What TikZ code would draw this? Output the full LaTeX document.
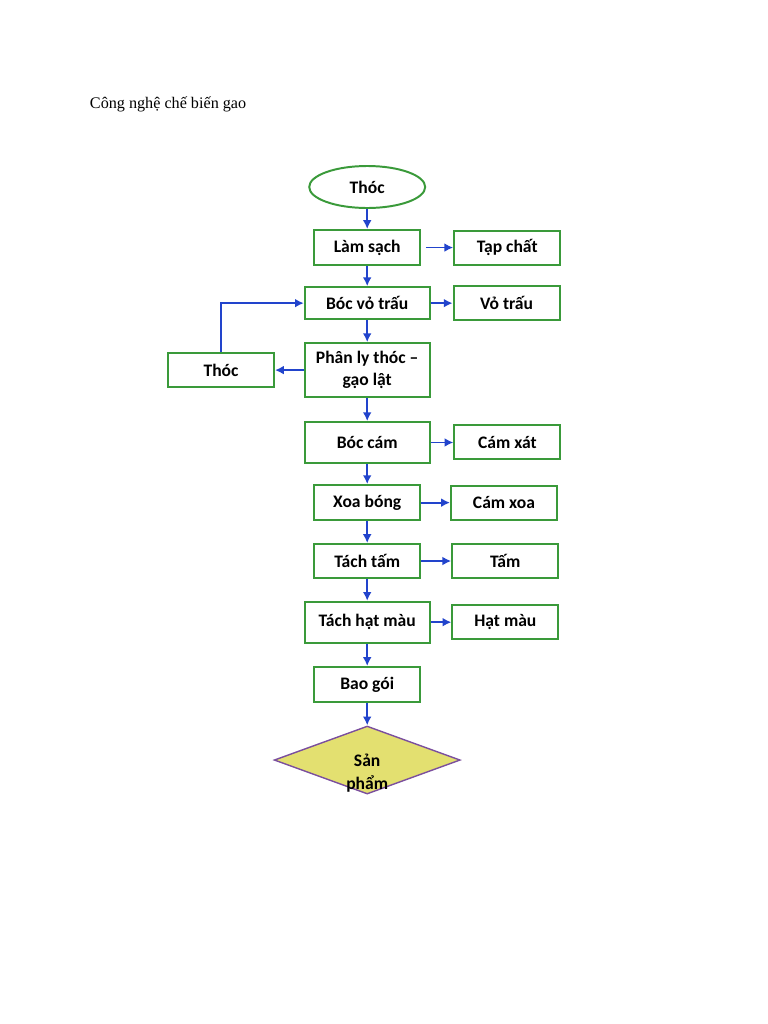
\documentclass[tikz,border=0pt]{standalone}
\usepackage{fontspec}
\setmainfont{Liberation Serif}
\setsansfont{Carlito}
\usepackage{xcolor}
\usepackage{tikz}
\usetikzlibrary{arrows.meta, positioning, shapes.geometric}

\definecolor{boxgreen}{HTML}{3A9A3A}
\definecolor{flowblue}{HTML}{2244CC}
\definecolor{goldfill}{HTML}{E3E070}
\definecolor{violetline}{HTML}{7B4F9E}

\begin{document}
\begin{tikzpicture}[
        start/.style={draw=boxgreen, line width=1.4pt, ellipse, minimum width=2.9cm, minimum height=1.05cm, inner sep=0pt, font=\sffamily\bfseries\fontsize{12.5}{15.5}\selectfont},
        process/.style={draw=boxgreen, line width=1.4pt, rectangle, minimum width=2.65cm, minimum height=0.88cm, align=center, font=\sffamily\bfseries\fontsize{12.5}{15.5}\selectfont},
        wideprocess/.style={process, minimum width=3.12cm},
        waste/.style={process, minimum width=2.65cm, minimum height=0.85cm},
        finish/.style={draw=violetline, line width=1pt, fill=goldfill, diamond, minimum width=4.65cm, minimum height=1.7cm, inner sep=0pt},
        arrow/.style={-{Latex[length=2.2mm, width=2.2mm]}, draw=flowblue, line width=1.3pt}
    ]
        \fill[white] (0,0) rectangle (19.2,-25.6);
        \useasboundingbox (0,0) rectangle (19.2,-25.6);

        \node[anchor=base west, font=\fontsize{11.5}{14}\selectfont] (title) at (2.125,-2.72) {Công nghệ chế biến gao};

        % Nodes
            \node[start] (paddy) at (9.18,-4.675) {Thóc};
            \node[process, below=0.5cm of paddy] (clean) {Làm sạch};
            \node[wideprocess, below=0.5cm of clean, minimum height=0.8cm] (husk) {Bóc vỏ trấu};
            \node[wideprocess, below=0.55cm of husk, minimum height=1.35cm] (separate) {Phân ly thóc –\\gạo lật};
            \node[wideprocess, below=0.575cm of separate, minimum height=1.02cm] (whiten) {Bóc cám};
            \node[process, below=0.505cm of whiten] (polish) {Xoa bóng};
            \node[process, below=0.545cm of polish, minimum height=0.85cm] (grade) {Tách tấm};
            \node[wideprocess, below=0.545cm of grade, minimum height=1.02cm] (sort) {Tách hạt màu};
            \node[process, below=0.56cm of sort] (pack) {Bao gói};
            \node[finish, below=0.555cm of pack] (product) {};
            \node[font=\sffamily\bfseries\fontsize{12.5}{16.5}\selectfont, align=center] (producttext) at ([yshift=-0.33cm]product.center) {Sản\\phẩm};

            \node[waste, right=0.8cm of clean] (impurity) {Tạp chất};
            \node[waste, right=0.55cm of husk] (hull) {Vỏ trấu};
            \node[waste, left=0.72cm of separate] (paddyback) {Thóc};
            \node[waste, right=0.57cm of whiten] (coarsebran) {Cám xát};
            \node[waste, right=0.72cm of polish] (finebran) {Cám xoa};
            \node[waste, right=0.75cm of grade] (broken) {Tấm};
            \node[waste, right=0.52cm of sort] (colored) {Hạt màu};

            % Arrows
            \draw[arrow] (paddy) -- (clean);
            \draw[arrow] (clean) -- (husk);
            \draw[arrow] (husk) -- (separate);
            \draw[arrow] (separate) -- (whiten);
            \draw[arrow] (whiten) -- (polish);
            \draw[arrow] (polish) -- (grade);
            \draw[arrow] (grade) -- (sort);
            \draw[arrow] (sort) -- (pack);
            \draw[arrow] (pack) -- (product);

            \draw[arrow, shorten <=0.12cm] (clean) -- (impurity);
            \draw[arrow] (husk) -- (hull);
            \draw[arrow] (separate) -- (paddyback);
            \draw[arrow] (paddyback.north) |- (husk.west);
            \draw[arrow] (whiten) -- (coarsebran);
            \draw[arrow] (polish) -- (finebran);
            \draw[arrow] (grade) -- (broken);
            \draw[arrow] (sort) -- (colored);
    \end{tikzpicture}
\end{document}
